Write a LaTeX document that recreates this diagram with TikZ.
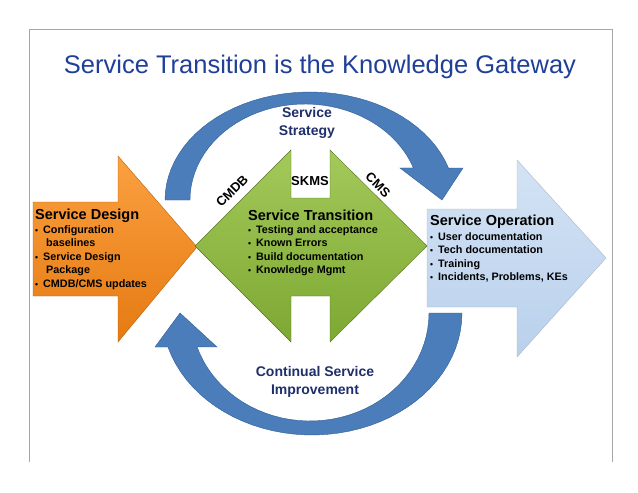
\documentclass[tikz,border=0pt]{standalone}
\usepackage{fontspec}
\setmainfont{Liberation Sans}
\definecolor{ttl}{HTML}{1F3F99}
\definecolor{dkb}{HTML}{1F2F6B}
\definecolor{arrb}{HTML}{4A7DBA}
\definecolor{arrbd}{HTML}{2F5E96}
\definecolor{orl}{HTML}{FBA040}
\definecolor{ord}{HTML}{E57A12}
\definecolor{grl}{HTML}{A3C95A}
\definecolor{grd}{HTML}{7DA832}
\definecolor{lbl1}{HTML}{D4E3F5}
\definecolor{lbl2}{HTML}{B9D0EC}
\newcommand{\bul}{{\fontsize{8.5}{8}\selectfont\textbullet}\hspace{5pt}}
\begin{document}
\begin{tikzpicture}[x=1pt,y=-1pt,
  lbl/.style={font=\bfseries\fontsize{10.8}{13.6}\selectfont, align=left, inner sep=0pt},
  hd/.style={font=\bfseries\fontsize{14.5}{16}\selectfont, inner sep=0pt, anchor=west},
  cyc/.style={font=\bfseries\fontsize{14}{17.5}\selectfont, text=dkb, align=center, inner sep=0pt},
  tag/.style={font=\bfseries\fontsize{13}{14}\selectfont, inner sep=0pt}]
\useasboundingbox (0,0) rectangle (638,493);
\fill[white] (0,0) rectangle (638,493);
% frame
\draw[black!35, line width=0.6pt] (29,462) -- (29,29) -- (612,29) -- (612,462);
% title
\node[text=ttl, font=\fontsize{25.5}{30}\selectfont, inner sep=0pt] (title) at (320,67) {Service Transition is the Knowledge Gateway};
% top arrow
\path[fill=arrb, draw=arrbd, line width=0.4pt]
  plot[domain=180:17.2, samples=40] ({310+145*cos(\x)},{200-108*sin(\x)})
  -- (463,168) -- (442,200) -- (400,168)
  -- plot[domain=19.5:180, samples=40] ({305+115*cos(\x)},{200-96*sin(\x)}) -- cycle;
% bottom arrow
\path[fill=arrb, draw=arrbd, line width=0.4pt]
  plot[domain=0:163.8, samples=40] ({312+150*cos(\x)},{313+122*sin(\x)})
  -- (155,347) -- (180,313) -- (217,347)
  -- plot[domain=161.7:0, samples=40] ({310+119*cos(\x)},{313+108*sin(\x)}) -- cycle;
% orange arrow
\path[top color=orl, bottom color=ord, draw=ord!80!black, line width=0.4pt]
  (33,202) -- (118,202) -- (118,156) -- (197,247) -- (118,342) -- (118,296) -- (33,296) -- cycle;
% light blue arrow
\path[top color=lbl1, bottom color=lbl2, draw=lbl2!70!gray, line width=0.4pt]
  (427,209) -- (517,209) -- (517,160) -- (606,258) -- (517,357) -- (517,307) -- (427,307) -- cycle;
% green shape
\path[top color=grl, bottom color=grd, draw=grd!70!black, line width=0.4pt]
  (195,246) -- (291,150) -- (291,198) -- (330,198) -- (330,150) -- (427,246)
  -- (330,342) -- (330,296) -- (291,296) -- (291,342) -- cycle;
% texts
\node[cyc] (strat) at (307,123) {Service\\Strategy};
\node[cyc] (csi) at (315,382) {Continual Service\\Improvement};
\node[tag] (skms) at (310,181) {SKMS};
\node[tag, rotate=45] (cmdb) at (232,191) {CMDB};
\node[tag, rotate=-45] (cms) at (378,185) {CMS};
\node[hd] (sdh) at (35,216) {Service Design};
\node[lbl, anchor=north west] (sdl) at (35,225) {\bul Configuration\\\hspace*{11pt}baselines\\\bul Service Design\\\hspace*{11pt}Package\\\bul CMDB/CMS updates};
\node[hd] (sth) at (248,215) {Service Transition};
\node[lbl, anchor=north west] (stl) at (248,225) {\bul Testing and acceptance\\\bul Known Errors\\\bul Build documentation\\\bul Knowledge Mgmt};
\node[hd] (soh) at (430,222) {Service Operation};
\node[lbl, anchor=north west] (sol) at (430,232) {\bul User documentation\\\bul Tech documentation\\\bul Training\\\bul Incidents, Problems, KEs};
\end{tikzpicture}
\end{document}
